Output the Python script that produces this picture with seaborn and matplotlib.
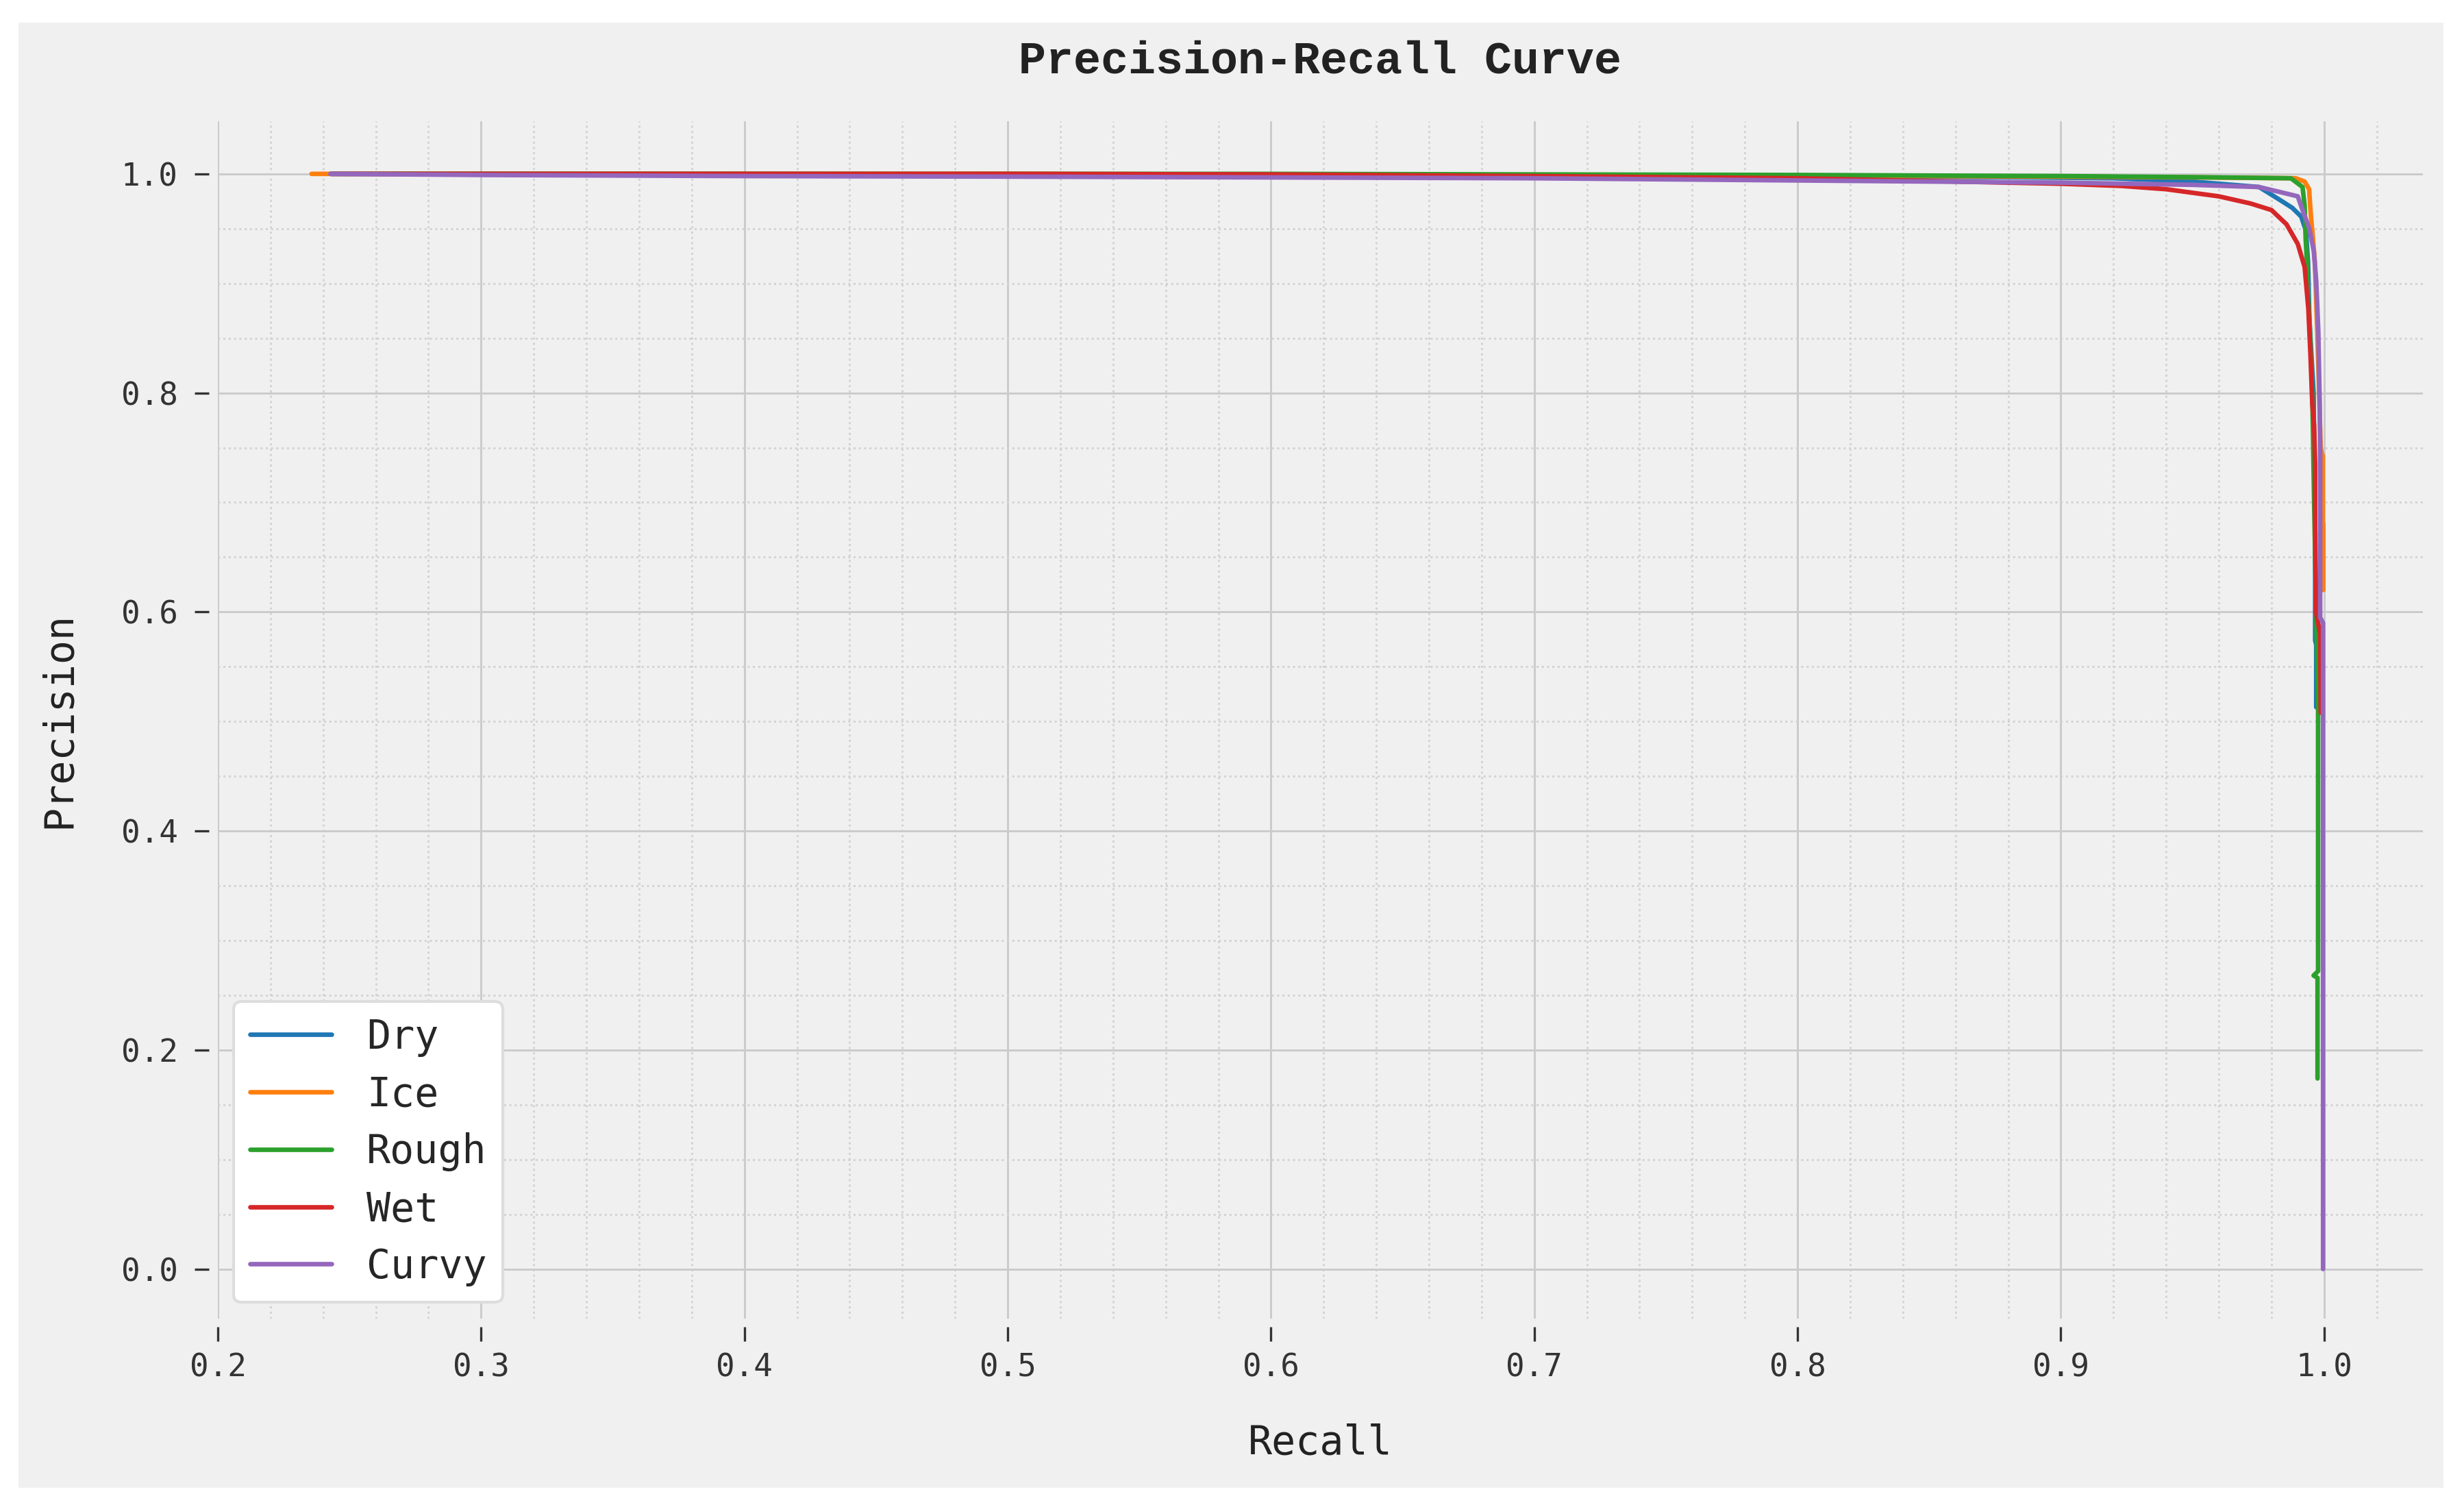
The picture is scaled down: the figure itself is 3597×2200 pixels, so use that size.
# Precision-recall curves for the five road surface classes
import pandas as pd
import matplotlib.pyplot as plt
import seaborn as sns
from matplotlib import font_manager
from matplotlib.patches import Rectangle
from matplotlib.ticker import MultipleLocator

# values
classes = ['Dry', 'Ice', 'Rough', 'Wet', 'Curvy']

dry_recall = [0.243, 0.30, 0.40, 0.50, 0.60, 0.70, 0.80, 0.88, 0.92, 0.95, 0.9753,
              0.9796, 0.9840, 0.9879, 0.9913, 0.9931, 0.9939, 0.9944, 0.9960, 0.9966,
              0.9966, 0.9970, 0.9970]
dry_precision = [1.000, 1.000, 1.000, 0.9995, 0.999, 0.9985, 0.998, 0.997, 0.996, 0.993, 0.988,
                 0.9816, 0.975, 0.969, 0.961, 0.948, 0.919, 0.867, 0.800, 0.672,
                 0.574, 0.570, 0.513]

ice_recall = [0.2356, 0.30, 0.40, 0.50, 0.60, 0.70, 0.85, 0.94, 0.9892, 0.9926, 0.9943,
              0.9950, 0.9956, 0.9965, 0.9974, 0.9978, 0.9987, 0.9992, 0.9995, 0.9995,
              0.9997, 0.9997]
ice_precision = [1.000, 1.000, 1.000, 1.000, 0.9995, 0.999, 0.998, 0.997, 0.996, 0.993, 0.986,
                 0.961, 0.946, 0.919, 0.856, 0.825, 0.751, 0.743, 0.743, 0.680,
                 0.680, 0.620]

rough_recall = [0.243, 0.30, 0.40, 0.50, 0.60, 0.70, 0.80, 0.90, 0.95, 0.9874, 0.9918,
                0.9926, 0.9930, 0.9935, 0.9939, 0.9945, 0.9955, 0.9962, 0.9970, 0.9977,
                0.9977, 0.9960, 0.9975, 0.9975]
rough_precision = [1.000, 1.000, 1.000, 1.000, 1.000, 0.9995, 0.999, 0.998, 0.997, 0.996, 0.988,
                   0.971, 0.940, 0.919, 0.887, 0.864, 0.800, 0.700, 0.600, 0.520,
                   0.272, 0.268, 0.266, 0.174]

wet_recall = [0.243, 0.30, 0.40, 0.50, 0.60, 0.70, 0.80, 0.90, 0.923, 0.94, 0.96,
              0.972, 0.98, 0.9857, 0.990, 0.9926, 0.994, 0.9948, 0.9955, 0.9958,
              0.9962, 0.9966, 0.9966, 0.9969, 0.9985, 0.9987]
wet_precision = [1.000, 1.000, 1.000, 1.000, 0.9995, 0.998, 0.996, 0.991, 0.989, 0.986, 0.9795,
                 0.973, 0.967, 0.954, 0.936, 0.915, 0.877, 0.835, 0.790, 0.782,
                 0.770, 0.734, 0.680, 0.600, 0.580, 0.508]

curvy_recall = [0.2427, 0.30, 0.40, 0.50, 0.61, 0.70, 0.80, 0.90, 0.95, 0.9753, 0.9840,
                0.9900, 0.9918, 0.9944, 0.9961, 0.9970, 0.9978, 0.9983, 0.9985, 0.9985,
                0.9996, 0.9996]
curvy_precision = [1.000, 0.999, 0.998, 0.9975, 0.9967, 0.996, 0.994, 0.992, 0.990, 0.988, 0.983,
                   0.9795, 0.967, 0.950, 0.929, 0.902, 0.856, 0.793, 0.750, 0.595,
                   0.590, 0.000]

recalls = [dry_recall, ice_recall, rough_recall, wet_recall, curvy_recall]
precisions = [dry_precision, ice_precision, rough_precision, wet_precision, curvy_precision]

frames = []
for name, r, p in zip(classes, recalls, precisions):
    frames.append(pd.DataFrame({'Recall': r, 'Precision': p, 'Class': name}))
df = pd.concat(frames, ignore_index=True)

# courier-like bold font for the title, take the first one that exists
title_font = 'DejaVu Sans Mono'
for cand in ['Liberation Mono', 'Courier New', 'Nimbus Mono PS', 'FreeMono', 'Courier']:
    try:
        font_manager.findfont(font_manager.FontProperties(family=cand, weight='bold'),
                              fallback_to_default=False)
        title_font = cand
        break
    except ValueError:
        pass

bg = '#f0f0f0'
sns.set_theme(style='whitegrid', rc={'axes.facecolor': bg,
                                     'grid.color': '#cbcbcb',
                                     'grid.linewidth': 0.7,
                                     'lines.linewidth': 1.6})
plt.rcParams['font.family'] = ['DejaVu Sans Mono', 'DejaVu Sans']

fig = plt.figure(figsize=(3597 / 300, 2200 / 300), dpi=300, facecolor='white')
fig.patches.append(Rectangle((27 / 3597, 1 - 2172 / 2200), 3540 / 3597, 2139 / 2200,
                             transform=fig.transFigure, facecolor=bg, edgecolor='none',
                             zorder=-1))
ax = fig.add_axes([0.0884, 0.1252, 0.8949, 0.7943])

palette = ['#1f77b4', '#ff7f0e', '#2ca02c', '#d62728', '#9467bd']
sns.lineplot(data=df, x='Recall', y='Precision', hue='Class', hue_order=classes,
             palette=palette, sort=False, estimator=None, linewidth=1.6, ax=ax)

ax.set_xlim(0.2, 1.0375)
ax.set_ylim(-0.045, 1.048)
ax.xaxis.set_major_locator(MultipleLocator(0.1))
ax.yaxis.set_major_locator(MultipleLocator(0.2))
ax.xaxis.set_minor_locator(MultipleLocator(0.02))
ax.yaxis.set_minor_locator(MultipleLocator(0.05))
ax.grid(which='major', color='#cbcbcb', linewidth=0.7, linestyle='-')
ax.grid(which='minor', color='#d2d2d2', linewidth=0.7, linestyle=':')

for side in ['top', 'right', 'left', 'bottom']:
    ax.spines[side].set_visible(False)
ax.spines['left'].set_position(('outward', 3))
ax.spines['bottom'].set_position(('outward', 3))
ax.tick_params(which='major', bottom=True, left=True, direction='out', length=5,
               width=0.8, color='#333333', labelsize=11, labelcolor='#333333')
ax.tick_params(axis='y', pad=6)
ax.tick_params(axis='x', pad=4)
ax.tick_params(which='minor', length=0)

ax.set_xlabel('Recall', fontsize=14, color='#222222', labelpad=14)
ax.set_ylabel('Precision', fontsize=14, color='#222222', labelpad=15)
ax.set_title('Precision-Recall Curve', fontsize=16, fontweight='bold',
             fontfamily=title_font, color='#222222', pad=17)

sns.move_legend(ax, 'lower left', title=None, fontsize=14, frameon=True,
                facecolor='white', edgecolor='#dddddd', framealpha=1,
                borderaxespad=0.4, borderpad=0.4, handlelength=2.05,
                handletextpad=0.87, labelspacing=0.46)

fig.savefig('out.png', dpi=300, facecolor='white')
